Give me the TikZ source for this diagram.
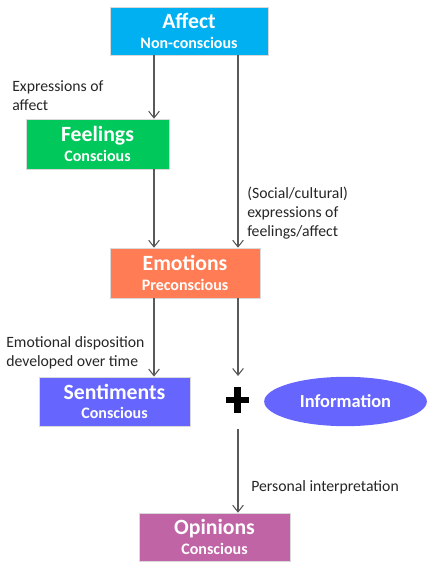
\documentclass[tikz,border=0pt]{standalone}
\usepackage{fontspec}
\setmainfont{Carlito}
\usepackage{tikz}
\usetikzlibrary{arrows.meta,shapes.geometric}
\usepackage{xcolor}

\definecolor{affectblue}{RGB}{0,176,240}
\definecolor{feelgreen}{RGB}{0,200,90}
\definecolor{emocoral}{RGB}{255,124,84}
\definecolor{sentviolet}{RGB}{102,102,255}
\definecolor{opinpink}{RGB}{192,100,166}
\definecolor{arrowgray}{RGB}{89,89,89}
\definecolor{labelgray}{RGB}{38,38,38}

\tikzset{
  stagebox/.style={rectangle, draw=white!85!black, line width=0.4pt, text=white, align=center, inner sep=0pt, font=\bfseries},
  arr/.style={draw=arrowgray, line width=0.8pt, -{Straight Barb[length=5pt,width=8pt]}},
  lbl/.style={anchor=west, inner sep=0pt, align=left, text=labelgray, font=\fontsize{11.8}{14.2}\selectfont}
}
\newcommand{\stagetext}[2]{{\fontsize{16.3}{18}\selectfont #1}\\[2.5pt]{\fontsize{12}{13}\selectfont #2}}

\begin{document}
\begin{tikzpicture}[x=0.75pt,y=0.75pt,yscale=-1,xscale=1]
\useasboundingbox (0,0) rectangle (433,577);

% Boxes
\node (affect) [stagebox, fill=affectblue, minimum width=118.5pt, minimum height=36pt] at (189,31) {\stagetext{Affect}{Non-conscious}};
\node (feelings) [stagebox, fill=feelgreen, minimum width=107pt, minimum height=37.5pt] at (97.5,144) {\stagetext{Feelings}{Conscious}};
\node (emotions) [stagebox, fill=emocoral, minimum width=112.5pt, minimum height=37.5pt] at (185,273) {\stagetext{Emotions}{Preconscious}};
\node (sentiments) [stagebox, fill=sentviolet, minimum width=113pt, minimum height=37pt] at (114.5,401.5) {\stagetext{Sentiments}{Conscious}};
\node (information) [ellipse, fill=sentviolet, text=white, inner sep=0pt, minimum width=122pt, minimum height=37pt, font=\bfseries\fontsize{13.8}{15}\selectfont] at (345.5,401.5) {Information};
\node (opinions) [stagebox, fill=opinpink, minimum width=113pt, minimum height=36pt] at (214.5,537) {\stagetext{Opinions}{Conscious}};

% Plus sign
\node (plus) [minimum size=18pt, inner sep=0pt] at (237.5,400) {};
\draw [line width=5.2pt] (plus.center) ++(0,-13) -- ++(0,26) (plus.center) ++(-11.5,0) -- ++(23,0);

% Arrow columns
\coordinate (lx) at (154,0);
\coordinate (rx) at (238,0);
\coordinate (join) at (238,376);
\coordinate (split) at (238,429);

% Arrows
\draw [arr] (affect.south -| lx) -- (feelings.north -| lx);
\draw [arr] (feelings.south -| lx) -- (emotions.north -| lx);
\draw [arr] (affect.south -| rx) -- (emotions.north -| rx);
\draw [arr] (emotions.south -| lx) -- (sentiments.north -| lx);
\draw [arr] (emotions.south -| rx) -- (join);
\draw [arr] (split) -- (opinions.north -| rx);

% Labels
\node (lblaffect) [lbl] at (12,95.5) {Expressions of\\affect};
\node (lblsocial) [lbl] at (247,213) {(Social/cultural)\\expressions of\\feelings/affect};
\node (lbldispo) [lbl] at (6,352.5) {Emotional disposition\\developed over time};
\node (lblpers) [lbl] at (251,487) {Personal interpretation};

\end{tikzpicture}
\end{document}
